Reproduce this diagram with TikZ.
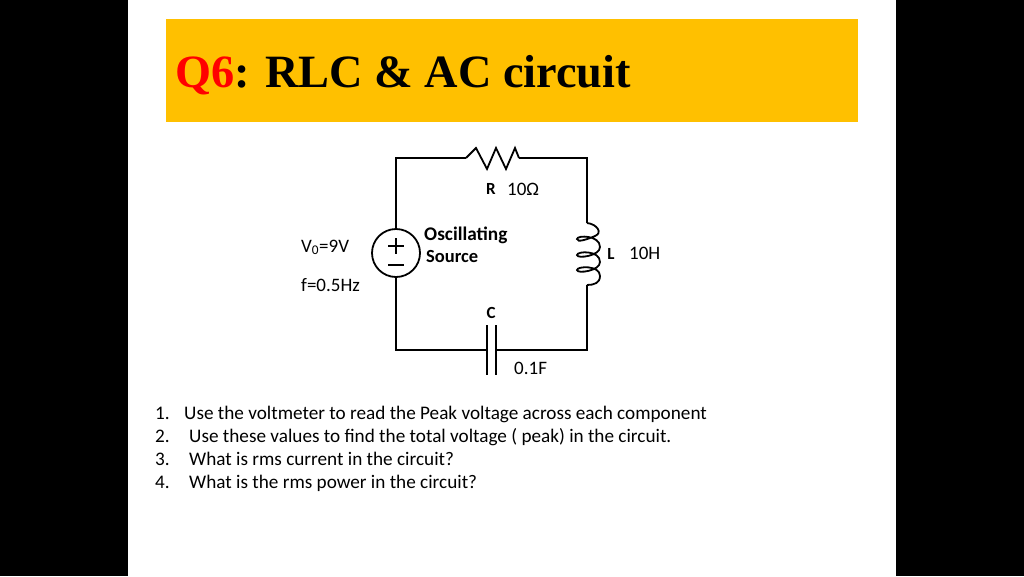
\documentclass[tikz,border=0pt]{standalone}
\usepackage{fontspec}
\setmainfont{Carlito}
\newfontfamily\titlefont{Liberation Serif}
\definecolor{titlebar}{HTML}{FFC000}
\tikzset{
	wire/.style={line width=1.8pt,black},
	txt/.style={anchor=base west,inner sep=0pt,font=\fontsize{19.2}{22}\selectfont},
	partlbl/.style={anchor=base,inner sep=0pt,font=\fontsize{17}{19}\selectfont\bfseries},
	vallbl/.style={anchor=base west,inner sep=0pt,font=\fontsize{19}{22}\selectfont}
}
\begin{document}
\begin{tikzpicture}[x=1pt,y=-1pt]
	\useasboundingbox (0,0) rectangle (1024,576);
	\fill[black] (0,0) rectangle (128,576);
	\fill[black] (896,0) rectangle (1024,576);
	\fill[titlebar] (166,19) rectangle (858,122);
	\node (title) at (175,87) [anchor=base west,inner sep=0pt,font=\titlefont\bfseries\fontsize{46.3}{52}\selectfont] {\textcolor{red}{Q6}: RLC \& AC circuit};
	% corners and component ends
	\coordinate (tl) at (396,158);
	\coordinate (tr) at (587,158);
	\coordinate (bl) at (396,350);
	\coordinate (br) at (587,350);
	\coordinate (resa) at (466,158);
	\coordinate (resb) at (519,158);
	\coordinate (inda) at (587,223);
	\coordinate (indb) at (587,285);
	\coordinate (capa) at (487,350);
	\coordinate (capb) at (496,350);
	\node (src) at (396,253) [circle,draw,line width=1.8pt,minimum size=48pt,inner sep=0pt] {};
	% wires
	\draw[wire] (src) -- (tl) -- (resa);
	\draw[wire] (resb) -- (tr) -- (inda);
	\draw[wire] (indb) -- (br) -- (capb);
	\draw[wire] (capa) -- (bl) -- (src);
	% resistor
	\draw[wire] (resa) -- (476,148) -- (487,169) -- (496,148) -- (506,169) -- (515,148) -- (resb);
	% inductor
	\draw[wire] (inda) .. controls (597,224) and (603,233) .. (595,236)
		.. controls (588,239) and (577,243) .. (577,239)
		.. controls (577,235) and (600,235) .. (600,247)
		.. controls (600,256) and (577,259) .. (577,255)
		.. controls (577,251) and (600,250) .. (600,262)
		.. controls (600,271) and (577,274) .. (577,270)
		.. controls (577,266) and (600,265) .. (600,276)
		.. controls (600,283) and (594,285) .. (indb);
	% capacitor
	\draw[wire] (487,325) -- (487,375);
	\draw[wire] (496,325) -- (496,375);
	% source signs
	\draw[wire] (388,246) -- (404,246);
	\draw[wire] (396,238) -- (396,254);
	\draw[wire] (388,265) -- (404,265);
	% labels
	\node (lblr) at (491,194) [partlbl] {R};
	\node (valr) at (507,195) [vallbl] {10Ω};
	\node (lbll) at (611,259) [partlbl] {L};
	\node (vall) at (629,259) [vallbl] {10H};
	\node (lblc) at (491,318) [partlbl] {C};
	\node (valc) at (514,374) [vallbl] {0.1F};
	\node (vzero) at (301,252) [vallbl] {V\textsubscript{0}=9V};
	\node (freq) at (301,291) [vallbl] {f=0.5Hz};
	\node (osc) at (424,240) [anchor=base west,inner sep=0pt,font=\fontsize{19.3}{22}\selectfont\bfseries] {Oscillating};
	\node (srct) at (426,262) [anchor=base west,inner sep=0pt,font=\fontsize{18.5}{22}\selectfont\bfseries] {Source};
	% questions
	\node (numa) at (155,419) [txt] {1.};
	\node (numb) at (155,442) [txt] {2.};
	\node (numc) at (155,465) [txt] {3.};
	\node (numd) at (155,488) [txt] {4.};
	\node (qa) at (184,419) [txt] {Use the voltmeter to read the Peak voltage across each component};
	\node (qb) at (189,442) [txt] {Use these values to find the total voltage ( peak) in the circuit.};
	\node (qc) at (189,465) [txt] {What is rms current in the circuit?};
	\node (qd) at (189,488) [txt] {What is the rms power in the circuit?};
\end{tikzpicture}
\end{document}
